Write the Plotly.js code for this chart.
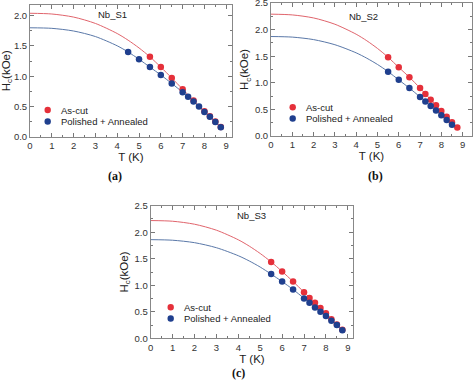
<!DOCTYPE html>
<html>
<head>
<meta charset="utf-8">
<script src="https://cdn.plot.ly/plotly-3.0.1.min.js"></script>
<style>html,body{margin:0;padding:0;background:#fff;}#chart{width:474px;height:387px;}</style>
</head>
<body>
<div id="chart"></div>
<script>
// ---- data ----
var sampleNames = ["Nb_S1", "Nb_S2", "Nb_S3"];
var captions = ["(a)", "(b)", "(c)"];
var seriesNames = ["As-cut", "Polished + Annealed"];

// (a) Nb_S1
var a_T_red = [5.5, 6, 6.5, 7, 7.5, 8, 8.25, 8.5, 8.75];
var a_H_red = [1.32, 1.15, 0.97, 0.785, 0.60, 0.42, 0.34, 0.25, 0.16];
var a_T_blue = [4.5, 5, 5.5, 6, 6.5, 7, 7.25, 7.5, 7.75, 8, 8.25, 8.5, 8.75];
var a_H_blue = [1.40, 1.28, 1.15, 1.02, 0.88, 0.735, 0.66, 0.58, 0.50, 0.41, 0.33, 0.245, 0.155];
var a_Tfit_red = [0, 1, 2, 3, 4, 4.5, 5, 5.5, 6, 6.5, 7, 7.5, 8, 8.25, 8.5, 8.75];
var a_Hfit_red = [2.04, 2.028, 1.977, 1.872, 1.705, 1.595, 1.467, 1.32, 1.15, 0.97, 0.785, 0.60, 0.42, 0.335, 0.245, 0.155];
var a_Tfit_blue = [0, 1, 2, 3, 4, 4.5, 5, 5.5, 6, 6.5, 7, 7.5, 8, 8.5, 8.75];
var a_Hfit_blue = [1.80, 1.791, 1.747, 1.655, 1.502, 1.40, 1.28, 1.15, 1.02, 0.88, 0.735, 0.58, 0.41, 0.245, 0.155];

// (b) Nb_S2
var b_T_red = [5.5, 6, 6.5, 7, 7.25, 7.5, 7.75, 8, 8.25, 8.5, 8.75];
var b_H_red = [1.48, 1.29, 1.105, 0.90, 0.79, 0.68, 0.58, 0.47, 0.36, 0.26, 0.16];
var b_T_blue = [5.5, 6, 6.5, 7, 7.25, 7.5, 7.75, 8, 8.25, 8.5];
var b_H_blue = [1.21, 1.055, 0.90, 0.735, 0.65, 0.565, 0.48, 0.39, 0.30, 0.21];
var b_Tfit_red = [0, 1, 2, 3, 4, 4.5, 5, 5.5, 6, 6.5, 7, 7.5, 8, 8.5, 8.75];
var b_Hfit_red = [2.29, 2.276, 2.219, 2.101, 1.913, 1.79, 1.646, 1.48, 1.29, 1.105, 0.90, 0.685, 0.47, 0.26, 0.16];
var b_Tfit_blue = [0, 1, 2, 3, 4, 4.5, 5, 5.5, 6, 6.5, 7, 7.5, 8, 8.5, 8.6];
var b_Hfit_blue = [1.87, 1.859, 1.812, 1.716, 1.563, 1.462, 1.345, 1.21, 1.055, 0.90, 0.735, 0.565, 0.39, 0.21, 0.175];

// (c) Nb_S3
var c_T_red = [5.5, 6, 6.5, 7, 7.25, 7.5, 7.75, 8, 8.25, 8.5, 8.75];
var c_H_red = [1.44, 1.26, 1.07, 0.87, 0.76, 0.67, 0.57, 0.47, 0.36, 0.26, 0.16];
var c_T_blue = [5.5, 6, 6.5, 7, 7.25, 7.5, 7.75, 8, 8.25, 8.5, 8.75];
var c_H_blue = [1.21, 1.07, 0.92, 0.75, 0.67, 0.58, 0.50, 0.42, 0.33, 0.25, 0.15];
var c_Tfit_red = [0, 1, 2, 3, 4, 4.5, 5, 5.5, 6, 6.5, 7, 7.5, 8, 8.5, 8.75];
var c_Hfit_red = [2.22, 2.207, 2.151, 2.038, 1.857, 1.738, 1.599, 1.44, 1.26, 1.07, 0.87, 0.67, 0.47, 0.26, 0.16];
var c_Tfit_blue = [0, 1, 2, 3, 4, 4.5, 5, 5.5, 6, 6.5, 7, 7.5, 8, 8.5, 8.75];
var c_Hfit_blue = [1.86, 1.849, 1.803, 1.708, 1.557, 1.458, 1.343, 1.21, 1.07, 0.92, 0.755, 0.585, 0.42, 0.25, 0.15];

var xTitle = "T (K)";
var yTitle = "H<sub>c</sub>(kOe)";

// ---- styling ----
var RED = "#e5303a", BLUE = "#1f3f8e";
var RED_L = "#e0646c", BLUE_L = "#5a78a8";
var W = 474, H = 387;
var FONT = "Liberation Sans, Arial, sans-serif";

var sets = [
  {xa: "x", ya: "y", tr: a_T_red, hr: a_H_red, tb: a_T_blue, hb: a_H_blue,
   tfr: a_Tfit_red, hfr: a_Hfit_red, tfb: a_Tfit_blue, hfb: a_Hfit_blue},
  {xa: "x2", ya: "y2", tr: b_T_red, hr: b_H_red, tb: b_T_blue, hb: b_H_blue,
   tfr: b_Tfit_red, hfr: b_Hfit_red, tfb: b_Tfit_blue, hfb: b_Hfit_blue},
  {xa: "x3", ya: "y3", tr: c_T_red, hr: c_H_red, tb: c_T_blue, hb: c_H_blue,
   tfr: c_Tfit_red, hfr: c_Hfit_red, tfb: c_Tfit_blue, hfb: c_Hfit_blue}
];

var traces = [];
sets.forEach(function (s) {
  traces.push({x: s.tfr, y: s.hfr, xaxis: s.xa, yaxis: s.ya, mode: "lines",
    line: {color: RED_L, width: 1, shape: "spline", smoothing: 0.8}, showlegend: false, hoverinfo: "skip"});
  traces.push({x: s.tfb, y: s.hfb, xaxis: s.xa, yaxis: s.ya, mode: "lines",
    line: {color: BLUE_L, width: 1, shape: "spline", smoothing: 0.8}, showlegend: false, hoverinfo: "skip"});
  traces.push({x: s.tr, y: s.hr, xaxis: s.xa, yaxis: s.ya, mode: "markers", name: seriesNames[0],
    marker: {color: RED, size: 6.5}, showlegend: false});
  traces.push({x: s.tb, y: s.hb, xaxis: s.xa, yaxis: s.ya, mode: "markers", name: seriesNames[1],
    marker: {color: BLUE, size: 6.5}, showlegend: false});
});

function xax(dom, range, anchor) {
  return {domain: dom, range: range, anchor: anchor, dtick: 1, tick0: 0,
    ticks: "inside", ticklen: 4, tickcolor: "#777", showline: true, linecolor: "#888", linewidth: 1,
    mirror: "ticks", showgrid: false, zeroline: false, ticklabeloverflow: "allow",
    minor: {dtick: 0.5, ticks: "inside", ticklen: 2, tickcolor: "#777"},
    tickfont: {family: FONT, size: 9.5, color: "#333"},
    title: {text: xTitle, font: {family: FONT, size: 11.5, color: "#222"}, standoff: 1}};
}
function yax(dom, range, anchor) {
  return {domain: dom, range: range, anchor: anchor, dtick: 0.5, tick0: 0, tickformat: ".1f",
    ticks: "inside", ticklen: 4, tickcolor: "#777", showline: true, linecolor: "#888", linewidth: 1,
    mirror: "ticks", showgrid: false, zeroline: false, ticklabeloverflow: "allow",
    minor: {dtick: 0.25, ticks: "inside", ticklen: 2, tickcolor: "#777"},
    tickfont: {family: FONT, size: 9.5, color: "#333"},
    title: {text: yTitle, font: {family: FONT, size: 11.5, color: "#222"}, standoff: 3}};
}

function px(x) { return x / W; }
function py(y) { return 1 - y / H; }

var annotations = [];
var shapes = [];
var labelPos = [[112, 15], [363, 16], [252, 215]];
var captionPos = [[115, 176], [375, 176], [238, 373]];
var legendPos = [[47.7, 110, 121.5], [292.7, 107.3, 118.5], [170.7, 307.3, 318.5]];
for (var i = 0; i < 3; i++) {
  annotations.push({xref: "paper", yref: "paper", x: px(labelPos[i][0]), y: py(labelPos[i][1]),
    text: sampleNames[i], showarrow: false, xanchor: "center", yanchor: "middle",
    font: {family: FONT, size: 9.5, color: "#222"}});
  annotations.push({xref: "paper", yref: "paper", x: px(captionPos[i][0]), y: py(captionPos[i][1]),
    text: "<b>" + captions[i] + "</b>", showarrow: false, xanchor: "center", yanchor: "middle",
    font: {family: "Liberation Serif, Times New Roman, serif", size: 12, color: "#111"}});
  var lp = legendPos[i];
  [[lp[1], RED, seriesNames[0]], [lp[2], BLUE, seriesNames[1]]].forEach(function (e) {
    shapes.push({type: "circle", xref: "paper", yref: "paper", xsizemode: "pixel", ysizemode: "pixel",
      xanchor: px(lp[0]), yanchor: py(e[0]), x0: -3.2, x1: 3.2, y0: -3.2, y1: 3.2,
      fillcolor: e[1], line: {width: 0}});
    annotations.push({xref: "paper", yref: "paper", x: px(lp[0] + 11), y: py(e[0]),
      text: e[2], showarrow: false, xanchor: "left", yanchor: "middle",
      font: {family: FONT, size: 9.5, color: "#222"}});
  });
}

var layout = {
  width: W, height: H, margin: {l: 0, r: 0, t: 0, b: 0}, paper_bgcolor: "#fff", plot_bgcolor: "#fff",
  showlegend: false,
  xaxis: xax([30 / W, 231.7 / W], [0, 9.25], "y"),
  yaxis: yax([(H - 136.7) / H, (H - 4.8) / H], [0, 2.18], "x"),
  xaxis2: xax([271 / W, 472 / W], [0, 9.44], "y2"),
  yaxis2: yax([(H - 136) / H, (H - 3) / H], [0, 2.5], "x2"),
  xaxis3: xax([150.7 / W, 353.3 / W], [0, 9.25], "y3"),
  yaxis3: yax([(H - 338.3) / H, (H - 205.7) / H], [0, 2.5], "x3"),
  annotations: annotations,
  shapes: shapes
};

Plotly.newPlot("chart", traces, layout, {staticPlot: true, displayModeBar: false});
</script>
</body>
</html>
